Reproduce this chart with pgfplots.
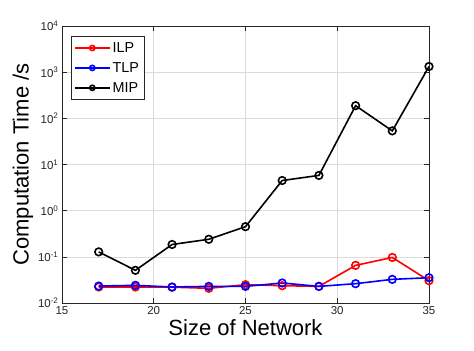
\documentclass[border=0pt]{standalone}
\usepackage{fontspec}
\setmainfont{Liberation Sans}
\usepackage{pgfplots}
\pgfplotsset{compat=1.18}
\definecolor{axgray}{gray}{0.15}
\definecolor{gridmaj}{gray}{0.86}
\definecolor{gridmin}{gray}{0.90}
\begin{document}
\begin{tikzpicture}
\begin{axis}[
  scale only axis,
  width=367pt, height=277pt,
  xmin=15, xmax=35,
  ymode=log, log basis y=10,
  ymin=0.01, ymax=10000,
  xtick={15,20,25,30,35},
  ytick={0.01,0.1,1,10,100,1000,10000},
  yticklabels={10\textsuperscript{-2},10\textsuperscript{-1},10\textsuperscript{0},10\textsuperscript{1},10\textsuperscript{2},10\textsuperscript{3},10\textsuperscript{4}},
  /pgf/number format/assume math mode=true,
  tick label style={font=\fontsize{11.5}{12}\selectfont, text=axgray},
  xlabel={Size of Network},
  ylabel={Computation Time /s},
  label style={font=\fontsize{22}{24}\selectfont},
  xlabel style={yshift=2pt},
  ylabel style={yshift=-2pt},
  axis line style={axgray, line width=0.6pt},
  tick style={axgray, line width=0.5pt},
  tick align=inside,
  major tick length=5pt,
  minor tick length=2.5pt,
  xmajorgrids, ymajorgrids, yminorgrids,
  major grid style={gridmaj, line width=0.5pt},
  minor grid style={gridmin, line width=0.4pt},
  legend style={at={(0,1)}, anchor=north west, xshift=8.7pt, yshift=-10pt,
    draw=axgray, line width=0.6pt, font=\fontsize{14.4}{16}\selectfont,
    inner xsep=3pt, inner ysep=4pt, row sep=4.5pt},
  legend cell align=left,
  legend image code/.code={\draw[mark repeat=2,mark phase=2, mark size=2.6pt] plot coordinates {(0pt,0pt)(17.5pt,0pt)(35pt,0pt)};},
  every axis plot/.append style={line width=1.6pt, mark=o, mark size=3.8pt, mark options={line width=1.6pt, solid}},
]
\addplot[red] coordinates {(17,0.0222)(19,0.0222)(21,0.0220)(23,0.0208)(25,0.0249)(27,0.0237)(29,0.0229)(31,0.0653)(33,0.097)(35,0.0304)};
\addlegendentry{ILP}
\addplot[blue] coordinates {(17,0.0233)(19,0.0241)(21,0.0222)(23,0.0229)(25,0.0229)(27,0.0271)(29,0.0229)(31,0.0262)(33,0.0325)(35,0.0353)};
\addlegendentry{TLP}
\addplot[black] coordinates {(17,0.128)(19,0.051)(21,0.185)(23,0.24)(25,0.45)(27,4.5)(29,5.8)(31,188)(33,53.5)(35,1327)};
\addlegendentry{MIP}
\end{axis}
\path (current axis.south west) ++(-62pt,-48pt) coordinate (bbA);
\path (current axis.north east) ++(45pt,26pt) coordinate (bbB);
\pgfresetboundingbox
\useasboundingbox (bbA) rectangle (bbB);
\end{tikzpicture}
\end{document}
